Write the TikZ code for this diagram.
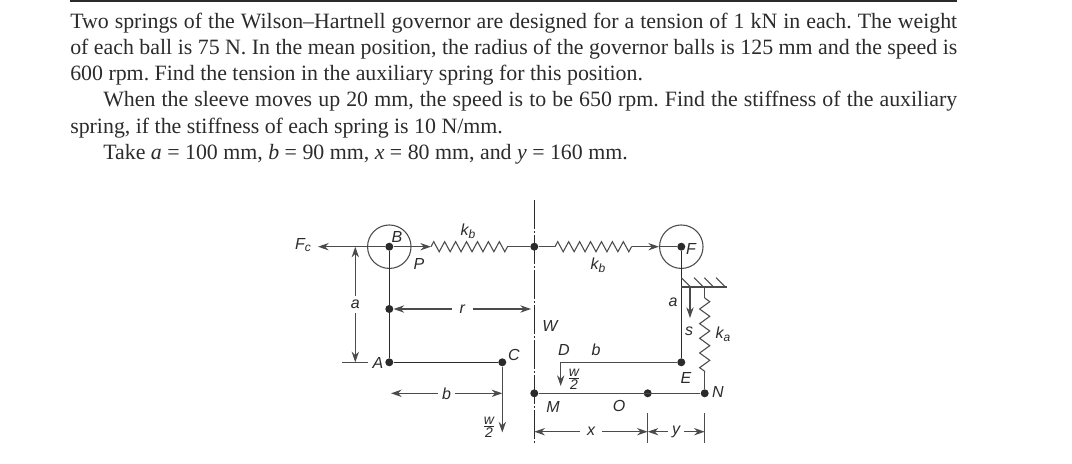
\documentclass[tikz,border=0pt]{standalone}
\usepackage{amsmath}
\usepackage{fontspec}
\setmainfont{Liberation Serif}
\setsansfont{Liberation Sans}
\usetikzlibrary{calc,arrows.meta,decorations.pathmorphing}
\definecolor{ink}{HTML}{2B2B2B}
\newcommand{\lbsub}[1]{\raisebox{-2pt}{\fontsize{9}{9}\selectfont #1}}
\newcommand{\halfw}{$\frac{\text{\fontsize{10.5}{10.5}\selectfont\sffamily\itshape w}}{\text{\fontsize{10.5}{10.5}\selectfont\sffamily\itshape 2}}$}
\tikzset{
  para/.style={anchor=base west,inner sep=0pt,text=ink,font=\fontsize{16.4}{16.4}\selectfont\frenchspacing},
  lbl/.style={inner sep=0pt,text=ink,font=\fontsize{12}{12}\selectfont\sffamily\itshape},
  dot/.style={circle,fill=ink,inner sep=0pt,minimum size=6pt},
  spring/.style={decorate,decoration={zigzag,amplitude=3.8pt,segment length=8.2pt}},
  link/.style={line width=1.1pt,ink},
  thin line/.style={line width=0.8pt,ink!85},
  force/.style={line width=0.8pt,ink!85,-{Stealth[length=8pt,width=5.5pt]}},
  dim/.style={line width=0.8pt,ink!85,{Stealth[length=8pt,width=5.5pt]}-{Stealth[length=8pt,width=5.5pt]}}
}
\begin{document}
\begin{tikzpicture}[x=0.75pt,y=-0.75pt]
    \useasboundingbox (0,0) rectangle (1072,464);

    % problem text
    \coordinate (ruleL) at (70,1);
    \coordinate (ruleR) at (957,1);
    \draw[line width=1.3pt,ink] (ruleL)--(ruleR);
    \node[para] (line1) at (70,28) {\makebox[665.25pt][s]{Two springs of the Wilson--Hartnell governor are designed for a tension of 1 kN in each. The weight}};
    \node[para] (line2) at (70,54) {\makebox[665.25pt][s]{of each ball is 75 N. In the mean position, the radius of the governor balls is 125 mm and the speed is}};
    \node[para] (line3) at (70,80) {600 rpm. Find the tension in the auxiliary spring for this position.};
    \node[para] (line4) at (103,106) {\makebox[640.5pt][s]{When the sleeve moves up 20 mm, the speed is to be 650 rpm. Find the stiffness of the auxiliary}};
    \node[para] (line5) at (70,133) {spring, if the stiffness of each spring is 10 N/mm.};
    \node[para] (line6) at (103,159) {Take \textit{a} = 100 mm, \textit{b} = 90 mm, \textit{x} = 80 mm, and \textit{y} = 160 mm.};

    % points of the governor
    \node[dot] (B) at (389.3,246.7) {};
    \node[dot] (R) at (389.3,309) {};
    \node[dot] (A) at (389.3,362.3) {};
    \node[dot] (C) at (502.3,362.3) {};
    \node[dot] (top) at (534.3,246.7) {};
    \node[dot] (M) at (534.3,393.3) {};
    \node[dot] (F) at (681.3,246.7) {};
    \node[dot] (E) at (681.3,362.3) {};
    \node[dot] (O) at (647.7,393.3) {};
    \node[dot] (N) at (704.7,393.3) {};
    \coordinate (axisT) at (534.3,200);
    \coordinate (axisB) at (534.3,443);
    \coordinate (fcTip) at (318,246.7);
    \coordinate (pTip) at (431,246.7);
    \coordinate (sL1) at (431,246.7);
    \coordinate (sL2) at (508,246.7);
    \coordinate (sR1) at (555,246.7);
    \coordinate (sR2) at (631.7,246.7);
    \coordinate (qTip) at (659,246.7);
    \coordinate (aTop) at (355.3,246.7);
    \coordinate (aBot) at (355.3,362.3);
    \coordinate (tickL) at (342,362.3);
    \coordinate (tickR) at (368,362.3);
    \coordinate (rEnd) at (531,309);
    \coordinate (bStart) at (391,393.3);
    \coordinate (bEnd) at (502.3,393.3);
    \coordinate (wTip) at (502.3,432.5);
    \coordinate (D) at (560.7,362.3);
    \coordinate (dTip) at (560.7,386);
    \coordinate (gndL) at (681.3,287);
    \coordinate (gndR) at (726.7,287);
    \coordinate (sTop) at (690,287);
    \coordinate (sTip) at (690,318);
    \coordinate (kTop) at (704.7,287);
    \coordinate (k1) at (704.7,298);
    \coordinate (k2) at (704.7,373);
    \coordinate (xL) at (534.3,431.7);
    \coordinate (xM) at (647.7,431.7);
    \coordinate (xR) at (704.7,431.7);
    \coordinate (oTick) at (647.7,413);
    \coordinate (oTickB) at (647.7,443);
    \coordinate (nTick) at (704.7,413);
    \coordinate (nTickB) at (704.7,443);

    % balls
    \draw[thin line] (B) circle (16.3pt);
    \draw[thin line] (F) circle (16.3pt);

    % centre line
    \draw[line width=0.9pt,ink,dash pattern=on 22pt off 1.5pt on 1.2pt off 1.5pt] (axisT)--(axisB);

    % left spring
    \draw[force] (B)--(fcTip);
    \draw[force] (B)--(pTip);
    \draw[thin line,spring] (sL1)--(sL2);
    \draw[thin line] (sL2)--(top);

    % right spring
    \draw[thin line] (top)--(sR1);
    \draw[thin line,spring] (sR1)--(sR2);
    \draw[force] (sR2)--(qTip);
    \draw[thin line] (qTip)--(F);

    % bell crank levers
    \draw[link] (B)--(A)--(C);
    \draw[force] (C)--(wTip);
    \draw[link] (F)--(E);
    \draw[thin line] (E)--(D);
    \draw[force] (D)--(dTip);
    \draw[thin line] (M)--(N);

    % stop and auxiliary spring
    \draw[thin line] (gndL)--(gndR);
    \foreach \hx in {9.3,22,32.3,44}
        \draw[thin line] ($(gndL)+(\hx,0)$)--++(-9.3,-9.3);
    \draw[force] (sTop)--(sTip);
    \draw[thin line] (kTop)--(k1);
    \draw[thin line,decorate,decoration={zigzag,amplitude=3.8pt,segment length=11pt}] (k1)--(k2);
    \draw[thin line] (k2)--(N);

    % dimensions
    \draw[dim] (aTop)--(aBot) node[lbl,midway,fill=white,inner ysep=3pt] (aL) {a};
    \draw[thin line] (tickL)--(tickR);
    \draw[dim] (R)--(rEnd) node[lbl,pos=0.5,fill=white,inner xsep=6pt] (rL) {r};
    \draw[dim] (bStart)--(bEnd) node[lbl,midway,fill=white,inner xsep=3pt] (bL) {b};
    \draw[dim] (xL)--(xM) node[lbl,midway,fill=white,inner xsep=5pt] (xLab) {x};
    \draw[dim] (xM)--(xR) node[lbl,midway,fill=white,inner xsep=3pt] (yLab) {y};
    \draw[thin line] (oTick)--(oTickB);
    \draw[thin line] (nTick)--(nTickB);

    % labels
    \node[lbl] (Fc) at (303,245) {F\lbsub{c}};
    \node[lbl] (Bn) at (397,237) {B};
    \node[lbl] (Pn) at (419,264) {P};
    \node[lbl] (kbL) at (468,231) {k\lbsub{b}};
    \node[lbl] (kbR) at (598,265) {k\lbsub{b}};
    \node[lbl] (Fn) at (691,249) {F};
    \node[lbl] (An) at (378,363) {A};
    \node[lbl] (Cn) at (514,355) {C};
    \node[lbl] (wL) at (489,427) {\halfw};
    \node[lbl] (aR) at (673,302) {a};
    \node[lbl] (sn) at (689,331) {s};
    \node[lbl] (ka) at (723,334) {k\lbsub{a}};
    \node[lbl] (Wn) at (550,326) {W};
    \node[lbl] (Dn) at (564,350) {D};
    \node[lbl] (bR) at (596,350) {b};
    \node[lbl] (wR) at (574,379) {\halfw};
    \node[lbl] (En) at (686,378) {E};
    \node[lbl] (Nn) at (718,392) {N};
    \node[lbl] (Mn) at (553,407) {M};
    \node[lbl] (On) at (619,406) {O};
  \end{tikzpicture}
\end{document}
